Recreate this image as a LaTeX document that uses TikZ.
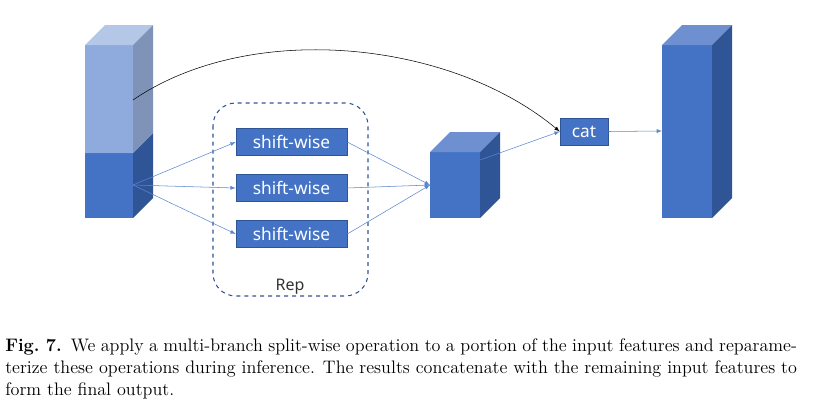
\documentclass[tikz,border=0pt]{standalone}
\usepackage{fontspec}
\newfontfamily\diagfont{Noto Sans}
\usetikzlibrary{calc,positioning}
\definecolor{frontLight}{HTML}{8FAADC}
\definecolor{topLight}{HTML}{B4C7E7}
\definecolor{sideLight}{HTML}{7F93B8}
\definecolor{frontDark}{HTML}{4472C4}
\definecolor{topDark}{HTML}{6F90D0}
\definecolor{sideDark}{HTML}{2F5597}
\definecolor{lineBlue}{HTML}{5B85CF}
\def\pu{0.0264cm}
\tikzset{
    op/.style = {draw=sideDark, fill=frontDark, text=white, font=\diagfont\fontsize{13}{13}\selectfont,
                 minimum height=27*\pu, inner sep=1pt},
    arr/.style = {lineBlue, thin, -latex},
}
\begin{document}
\begin{tikzpicture}[x=\pu, y=-\pu]

    % Determines the boundries
    \path[use as bounding box] (0,0) rectangle (819,414);

    \def\dd{20}             % depth of the blocks

    % block macro: x, top, bottom, width, front, top, side
    \def\featBlock#1#2#3#4#5#6#7{
        \fill[#5] (#1,#2) rectangle (#1+#4,#3);
        \fill[#6] (#1,#2) -- (#1+\dd,#2-\dd) -- (#1+#4+\dd,#2-\dd) -- (#1+#4,#2) -- cycle;
        \fill[#7] (#1+#4,#2) -- (#1+#4+\dd,#2-\dd) -- (#1+#4+\dd,#3-\dd) -- (#1+#4,#3) -- cycle;
    }

    % input features (lower part first, upper part covers its top)
    \featBlock{85}{153}{218}{48}{frontDark}{topDark}{sideDark}
    \featBlock{85}{45}{153}{48}{frontLight}{topLight}{sideLight}
    % merged branch output
    \featBlock{430}{152}{218}{50}{frontDark}{topDark}{sideDark}
    % final output
    \featBlock{662}{45}{218}{50}{frontDark}{topDark}{sideDark}

    \coordinate (inTop) at (133,100);
    \coordinate (inBot) at (133,185);
    \coordinate (midIn) at (430,185);
    \coordinate (midOut) at (480,160);
    \coordinate (outIn) at (662,131);

    % the branches
    \node[op, minimum width=111*\pu] (sw1) at (291.5,142) {shift-wise};
    \node[op, minimum width=111*\pu] (sw2) at (291.5,188) {shift-wise};
    \node[op, minimum width=111*\pu] (sw3) at (291.5,234) {shift-wise};
    \node[op, minimum width=48*\pu] (cat) at (584,131.5) {cat};

    \draw[sideDark, thick, dashed, rounded corners=0.6cm] (213,103) rectangle (368,296);
    \node[font=\diagfont\fontsize{12}{12}\selectfont, text=black!80] (rep) at (290,287) {Rep};

    \foreach \b in {sw1,sw2,sw3}{
        \draw[arr] (inBot) -- (\b.west);
        \draw[arr] (\b.east) -- (midIn);
    }
    \draw[arr] (midOut) -- (cat.west);
    \draw[arr] (cat.east) -- (outIn);
    \draw[black, thin, -latex] (inTop) .. controls (250,20) and (450,40) .. (cat.west);

    % caption
    \node[anchor=north west, text width=20.9cm, align=justify, inner sep=0pt,
          font=\fontsize{13.6}{16.8}\selectfont] (cap) at (5,338)
        {\textbf{Fig.~7.}\enspace We apply a multi-branch split-wise operation to a portion of the input features and reparameterize these operations during inference. The results concatenate with the remaining input features to form the final output.};
\end{tikzpicture}
\end{document}
